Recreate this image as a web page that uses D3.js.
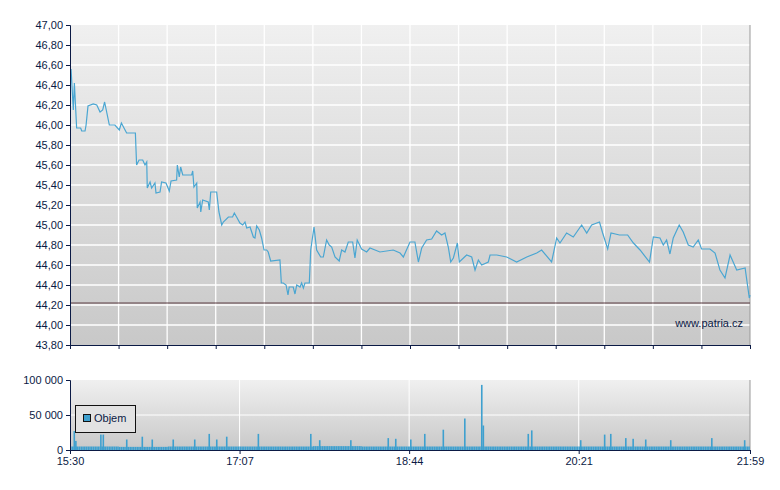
<!DOCTYPE html><html><head><meta charset="utf-8">
<script src="https://cdn.jsdelivr.net/npm/d3@7"></script>
<style>body{margin:0;background:#fff}svg{font-family:"Liberation Sans",Arial,sans-serif}</style></head><body>
<svg id="c" width="780" height="490"></svg>
<script>
// minutes after 15:30
const priceMin=[0.6,1.9,2.5,3.8,6.1,6.7,8.6,9.2,10.3,13.3,15.3,17.2,18.7,19.8,22.5,25.7,28.2,29.4,31.5,32.4,37.4,38.1,39.5,41.6,42.9,43.9,44.2,45.8,46.7,48.6,49.2,51.5,52.4,54.9,56.8,57.8,61.0,61.4,62.5,63.3,64.5,69.6,70.2,70.9,72.5,72.8,74.4,74.8,75.9,79.1,79.7,80.5,83.9,85.2,86.8,87.7,90.6,93.0,94.0,95.3,97.2,98.8,100.1,101.1,103.0,104.9,105.8,106.8,108.3,109.6,111.0,112.5,113.4,114.8,120.1,120.9,122.0,123.6,124.7,125.4,127.7,128.7,129.7,131.6,132.5,133.5,134.4,136.9,137.7,139.6,141.1,143.4,144.9,146.8,148.3,149.7,151.6,154.0,155.4,157.3,159.2,161.7,163.0,164.3,166.8,169.7,171.6,177.3,184.9,188.8,190.7,194.5,197.3,199.3,201.2,204.0,206.9,209.7,212.6,214.5,216.4,217.8,219.3,221.6,222.7,226.9,229.8,231.7,233.6,235.5,239.3,240.3,244.1,249.8,255.5,261.3,267.0,269.8,275.5,278.4,280.3,284.1,287.9,292.7,295.6,298.4,302.9,304.7,307.6,309.5,314.3,319.0,322.3,326.1,331.5,333.7,337.5,339.4,341.3,343.2,345.1,348.5,350.8,353.7,356.5,359.4,361.3,366.1,369.0,371.8,374.7,377.6,381.4,386.2,388.6,389];
const priceVal=[46.56,46.15,46.42,45.97,45.97,45.94,45.94,46.00,46.19,46.21,46.20,46.13,46.15,46.23,46.00,46.00,45.95,46.02,45.95,45.92,45.92,45.60,45.65,45.65,45.60,45.63,45.37,45.43,45.37,45.42,45.32,45.33,45.43,45.42,45.34,45.44,45.45,45.60,45.48,45.58,45.50,45.50,45.54,45.38,45.42,45.17,45.23,45.13,45.25,45.23,45.15,45.33,45.33,45.13,45.00,45.03,45.08,45.08,45.12,45.08,45.02,45.00,45.03,44.97,44.98,44.88,44.87,44.99,44.95,44.87,44.75,44.75,44.73,44.64,44.65,44.42,44.42,44.40,44.30,44.38,44.38,44.31,44.40,44.38,44.42,44.37,44.42,44.42,44.75,44.98,44.75,44.68,44.68,44.85,44.80,44.78,44.68,44.64,44.75,44.73,44.83,44.83,44.67,44.85,44.76,44.73,44.77,44.73,44.75,44.72,44.68,44.83,44.83,44.63,44.77,44.85,44.86,44.94,44.90,44.92,44.78,44.63,44.67,44.82,44.63,44.70,44.68,44.55,44.65,44.60,44.63,44.70,44.70,44.68,44.63,44.68,44.72,44.75,44.63,44.87,44.82,44.92,44.88,45.00,44.92,45.00,45.03,44.92,44.76,44.92,44.90,44.90,44.82,44.75,44.63,44.88,44.87,44.80,44.85,44.71,44.87,45.00,44.93,44.80,44.78,44.85,44.76,44.76,44.72,44.55,44.47,44.70,44.55,44.57,44.27,44.30];
const refPrice=44.22;
const spikeMin=[2.0,2.9,17.2,18.6,32.0,40.9,46.6,58.6,70.9,79.2,83.5,89.2,107.3,137.3,142.4,160.2,181.6,185.9,194.5,202.5,213.1,225.4,235.1,236.0,261.7,263.7,291.7,305.4,308.9,317.5,321.7,328.9,343.2,366.7,385.5];
const spikeVol=[27000,13000,22000,22000,15000,19000,15000,15000,15000,23000,15000,19000,23000,23000,14000,14000,17000,16000,15000,23000,29000,45000,93000,35000,23000,28000,14000,22000,23000,17000,16000,15000,14000,17000,14000];
const baseVol=[5000,4500,5000,5000,5000,5500,5000,5000,5000,5000,5000,5000,5000,5000];
const priceTicks=[43.8,44.0,44.2,44.4,44.6,44.8,45.0,45.2,45.4,45.6,45.8,46.0,46.2,46.4,46.6,46.8,47.0];
const volTicks=[0,50000,100000];
const timeLabels=["15:30","17:07","18:44","20:21","21:59"];

const svg=d3.select("#c");
const X0=70,X1=750,Y0=25,Y1=345,V0=380,V1=450;
const x=d3.scaleLinear().domain([0,389]).range([X0,X1]);
const y=d3.scaleLinear().domain([43.8,47]).range([Y1,Y0]);
const yv=d3.scaleLinear().domain([0,100000]).range([V1,V0]);
const defs=svg.append("defs");
const g=defs.append("linearGradient").attr("id","bg").attr("x1",0).attr("y1",0).attr("x2",0).attr("y2",1);
g.append("stop").attr("offset",0).attr("stop-color","#f0f0f0");
g.append("stop").attr("offset",1).attr("stop-color","#c8c8c8");
svg.append("rect").attr("x",X0).attr("y",Y0).attr("width",X1-X0).attr("height",Y1-Y0).attr("fill","url(#bg)");
svg.append("rect").attr("x",X0).attr("y",V0).attr("width",X1-X0).attr("height",V1-V0).attr("fill","url(#bg)");
const fmt=d=>d.toFixed(2).replace(".",",");
const gridT=d3.range(1,14).map(i=>i*389/14);
svg.append("g").selectAll("line").data(priceTicks.slice(1,-1)).join("line")
 .attr("x1",X0).attr("x2",X1).attr("y1",d=>y(d)).attr("y2",d=>y(d)).attr("stroke","#fff").attr("stroke-width",1.3);
svg.append("g").selectAll("line").data(gridT).join("line")
 .attr("x1",d=>x(d)).attr("x2",d=>x(d)).attr("y1",Y0).attr("y2",Y1).attr("stroke","#fff").attr("stroke-width",1.3);
const vt=[0,97,194,291,389];
svg.append("g").selectAll("line").data(vt.slice(1,-1)).join("line")
 .attr("x1",d=>x(d)).attr("x2",d=>x(d)).attr("y1",V0).attr("y2",V1).attr("stroke","#fff");
svg.append("line").attr("x1",X0).attr("x2",X1).attr("y1",yv(50000)).attr("y2",yv(50000)).attr("stroke","#fff");
svg.append("line").attr("x1",X1).attr("x2",X1).attr("y1",Y0).attr("y2",Y1).attr("stroke","#999");
svg.append("line").attr("x1",X1).attr("x2",X1).attr("y1",V0).attr("y2",V1).attr("stroke","#999");
svg.append("line").attr("x1",X0).attr("x2",X1).attr("y1",y(refPrice)).attr("y2",y(refPrice)).attr("stroke","#5a3a40").attr("stroke-width",1);
svg.append("path").datum(priceMin.map((m,i)=>[m,priceVal[i]]))
 .attr("d",d3.line().x(d=>x(d[0])).y(d=>y(d[1]))).attr("fill","none").attr("stroke","#4aa6d2").attr("stroke-width",1.2);
const bars=[];
for(let m=0;m<389;m++){bars.push([m,baseVol[Math.floor(m/389*baseVol.length)]]);}
spikeMin.forEach((m,i)=>bars.push([m,spikeVol[i]]));
svg.append("g").selectAll("rect").data(bars).join("rect")
 .attr("x",d=>x(d[0])).attr("width",1.6).attr("y",d=>yv(d[1])).attr("height",d=>V1-yv(d[1])).attr("fill","#3ea0cf");
const col="#0b1a45";
const ya=svg.append("g").attr("transform",`translate(${X0},0)`).call(d3.axisLeft(y).tickValues(priceTicks).tickFormat(fmt).tickSize(4));
const yva=svg.append("g").attr("transform",`translate(${X0},0)`).call(d3.axisLeft(yv).tickValues(volTicks).tickFormat(d=>d3.format(",")(d).replace(/,/g," ")).tickSize(4));
const xa=svg.append("g").attr("transform",`translate(0,${Y1})`).call(d3.axisBottom(x).tickValues(d3.range(0,15).map(i=>i*389/14)).tickFormat("").tickSize(4));
const xva=svg.append("g").attr("transform",`translate(0,${V1})`).call(d3.axisBottom(x).tickValues(vt).tickFormat((d,i)=>timeLabels[i]).tickSize(4));
[ya,yva,xa,xva].forEach(a=>{a.selectAll("path,line").attr("stroke",col);a.selectAll("text").attr("fill",col).style("font-size","11px");});
svg.append("rect").attr("x",75.5).attr("y",405.5).attr("width",60).attr("height",27).attr("fill","#e2e2e2").attr("stroke","#111");
svg.append("rect").attr("x",83.5).attr("y",414.5).attr("width",7).attr("height",7).attr("fill","#3ea0cf").attr("stroke","#111");
svg.append("text").attr("x",94).attr("y",422).text("Objem").attr("fill",col).style("font-size","11px");
svg.append("text").attr("x",743).attr("y",327).attr("text-anchor","end").text("www.patria.cz").attr("fill",col).style("font-size","11px");
</script></body></html>
